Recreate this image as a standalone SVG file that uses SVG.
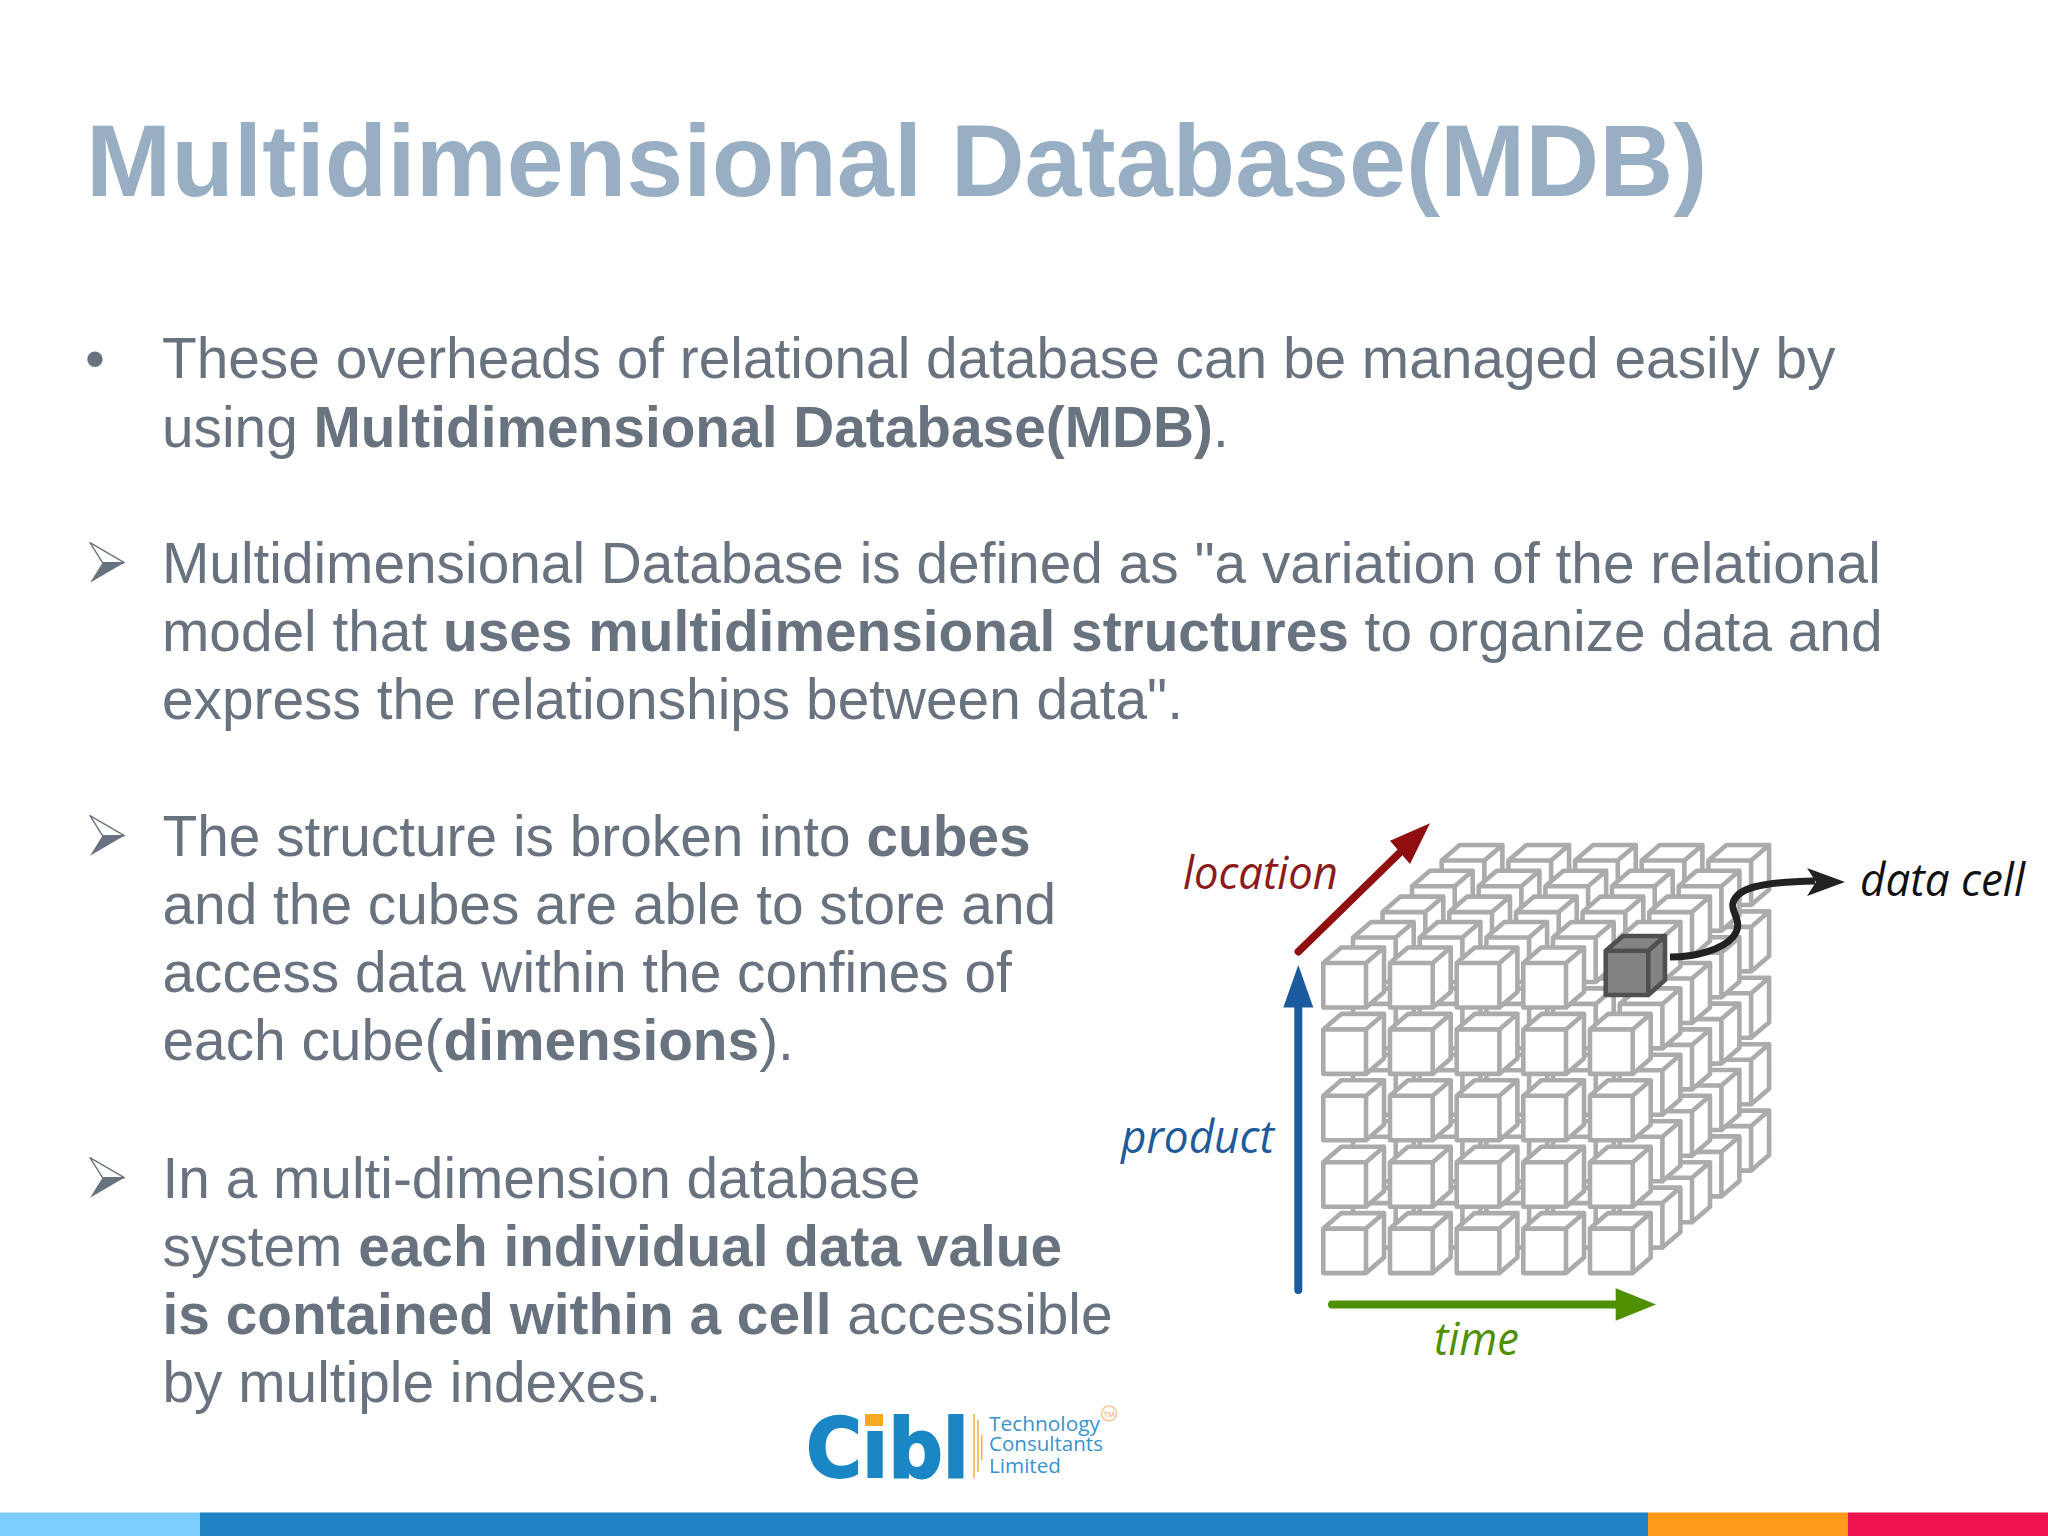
<svg xmlns="http://www.w3.org/2000/svg" width="2048" height="1536" viewBox="0 0 2048 1536">
<style>
.t{font-family:"Liberation Sans",Arial,sans-serif;font-size:56.8px;fill:#68737f}
.b{font-weight:700}
.title{font-family:"Liberation Sans",Arial,sans-serif;font-size:102.4px;font-weight:700;fill:#98afc3}
.cl{font-family:"Open Sans","DejaVu Sans",sans-serif;font-style:italic;font-size:46px}
.lg{font-family:"Open Sans","DejaVu Sans",sans-serif;font-size:20px;fill:#3a93cc}
.cube{fill:#fff;stroke:#ababab;stroke-width:4.6;stroke-linejoin:round}
</style>
<defs>
<path id="c" class="cube" d="M0 0H42.7V44.5H0ZM0 0L18 -15.5H60.7L42.7 0ZM42.7 0L60.7 -15.5V29L42.7 44.5Z"/>
<g id="r"><use href="#c"/><use href="#c" x="66.7"/><use href="#c" x="133.4"/><use href="#c" x="200"/><use href="#c" x="266.7"/></g>
<g id="l"><use href="#r"/><use href="#r" y="66.4"/><use href="#r" y="132.8"/><use href="#r" y="199.2"/><use href="#r" y="265.6"/></g>
<g id="bul"><path d="M90 582.7L124.3 562.7L102.5 562.7Z" fill="#68737f"/><path d="M90 542.7L124.3 562.7L102.5 562.7Z" fill="#fff" stroke="#68737f" stroke-width="1.4" stroke-linejoin="round"/></g>
</defs>
<rect width="2048" height="1536" fill="#fff"/>
<text id="title" class="title" x="86" y="196">Multidimensional Database(MDB)</text>

<g id="bullets">
<text class="t" x="85" y="378">•</text>
<use href="#bul"/>
<use href="#bul" y="273"/>
<use href="#bul" y="615"/>
</g>
<g id="body">
<text class="t" x="162" y="378">These overheads of relational database can be managed easily by</text>
<text class="t" x="162" y="446.7">using <tspan class="b">Multidimensional Database(MDB)</tspan>.</text>
<text class="t" x="162" y="582.7">Multidimensional Database is defined as "a variation of the relational</text>
<text class="t" x="162" y="651.2">model that <tspan class="b">uses multidimensional structures</tspan> to organize data and</text>
<text class="t" x="162" y="719.2">express the relationships between data".</text>
<text class="t" x="162.5" y="855.7">The structure is broken into <tspan class="b">cubes</tspan></text>
<text class="t" x="162.5" y="924.2">and the cubes are able to store and</text>
<text class="t" x="162.5" y="992.2">access data within the confines of</text>
<text class="t" x="162.5" y="1060.2">each cube(<tspan class="b">dimensions</tspan>).</text>
<text class="t" x="162.5" y="1197.7">In a multi-dimension database</text>
<text class="t" x="162.5" y="1265.7">system <tspan class="b">each individual data value</tspan></text>
<text class="t" x="162.5" y="1333.7"><tspan class="b">is contained within a cell</tspan> accessible</text>
<text class="t" x="162.5" y="1402.2">by multiple indexes.</text>
</g>

<g id="cube-grid">
<use href="#l" x="1441.7" y="860.5"/>
<use href="#l" x="1412" y="886.3"/>
<use href="#l" x="1382.6" y="912.1"/>
<use href="#l" x="1353" y="937.5"/>
<g transform="translate(1323.3 963)">
<use href="#c"/><use href="#c" x="66.7"/><use href="#c" x="133.4"/><use href="#c" x="200"/>
<use href="#r" y="66.4"/><use href="#r" y="132.8"/><use href="#r" y="199.2"/><use href="#r" y="265.6"/>
</g>
</g>
<g id="data-cell-cube">
<path d="M1605.7 950.7H1648.3V995H1605.7Z M1605.7 950.7L1623 936H1665L1648.3 950.7Z M1648.3 950.7L1665 936V980L1648.3 995Z" fill="#838383" stroke="#4f4f4f" stroke-width="4.5" stroke-linejoin="round"/>
</g>

<g id="connectors" fill="none" stroke-linecap="round">
<path d="M1298.3 1290V1000" stroke="#1c5a9e" stroke-width="8"/>
<path d="M1298.3 965L1313.3 1007.5H1283.3Z" fill="#1c5a9e"/>
<path d="M1298.3 951.7L1402 850.5" stroke="#8f0f0f" stroke-width="7.5"/>
<path d="M1430 823.3L1410 864L1390 840.7Z" fill="#8f0f0f"/>
<path d="M1332 1304.5H1620" stroke="#4f9000" stroke-width="8"/>
<path d="M1656 1304.5L1615.7 1320.7V1288.3Z" fill="#4f9000"/>
<path d="M1670 957C1695 957 1722 950 1733 937C1745 922 1730 912 1733 903C1737 888 1760 882 1815 881" stroke="#222" stroke-width="7" stroke-linecap="butt"/>
<path d="M1845 882L1807 868L1816 882L1807 896Z" fill="#222"/>
</g>

<g id="labels">
<text class="cl" x="1183" y="889" fill="#8b1a1a" textLength="155" lengthAdjust="spacingAndGlyphs">location</text>
<text class="cl" x="1121" y="1153" fill="#1f5a99" textLength="153" lengthAdjust="spacingAndGlyphs">product</text>
<text class="cl" x="1434" y="1355" fill="#4f9000" textLength="85" lengthAdjust="spacingAndGlyphs">time</text>
<text class="cl" x="1860" y="896" fill="#111" textLength="165" lengthAdjust="spacingAndGlyphs">data cell</text>
</g>

<g id="logo">
<text x="806" y="1476.5" font-family="'DejaVu Sans',sans-serif" font-weight="700" font-size="82" fill="#1b86c4" stroke="#1b86c4" stroke-width="2" textLength="163" lengthAdjust="spacingAndGlyphs">Cibl</text>
<rect x="862" y="1408" width="24" height="20" fill="#fff"/>
<rect x="865" y="1414" width="18" height="12" fill="#f9a825"/>
<path d="M974 1414V1478M978 1420V1472M981.7 1435V1460" stroke="#f5b14a" stroke-width="1.6" fill="none"/>
<text class="lg"><tspan x="989" y="1430.5" textLength="111" lengthAdjust="spacingAndGlyphs">Technology</tspan><tspan x="989" y="1451" textLength="114" lengthAdjust="spacingAndGlyphs">Consultants</tspan><tspan x="989" y="1472.5" textLength="72" lengthAdjust="spacingAndGlyphs">Limited</tspan></text>
<circle cx="1109" cy="1413.5" r="7.5" fill="#fff" stroke="#f7c58a" stroke-width="1.4"/>
<text x="1109" y="1416.5" text-anchor="middle" font-family="'Liberation Sans',sans-serif" font-size="8" fill="#f0a860">TM</text>
</g>

<g id="footer">
<rect x="0" y="1512.5" width="200" height="23.5" fill="#7dccff"/>
<rect x="200" y="1512.5" width="1448" height="23.5" fill="#1f83c4"/>
<rect x="1648" y="1512.5" width="200" height="23.5" fill="#ff9a1a"/>
<rect x="1848" y="1512.5" width="200" height="23.5" fill="#ee1250"/>
</g>
</svg>
